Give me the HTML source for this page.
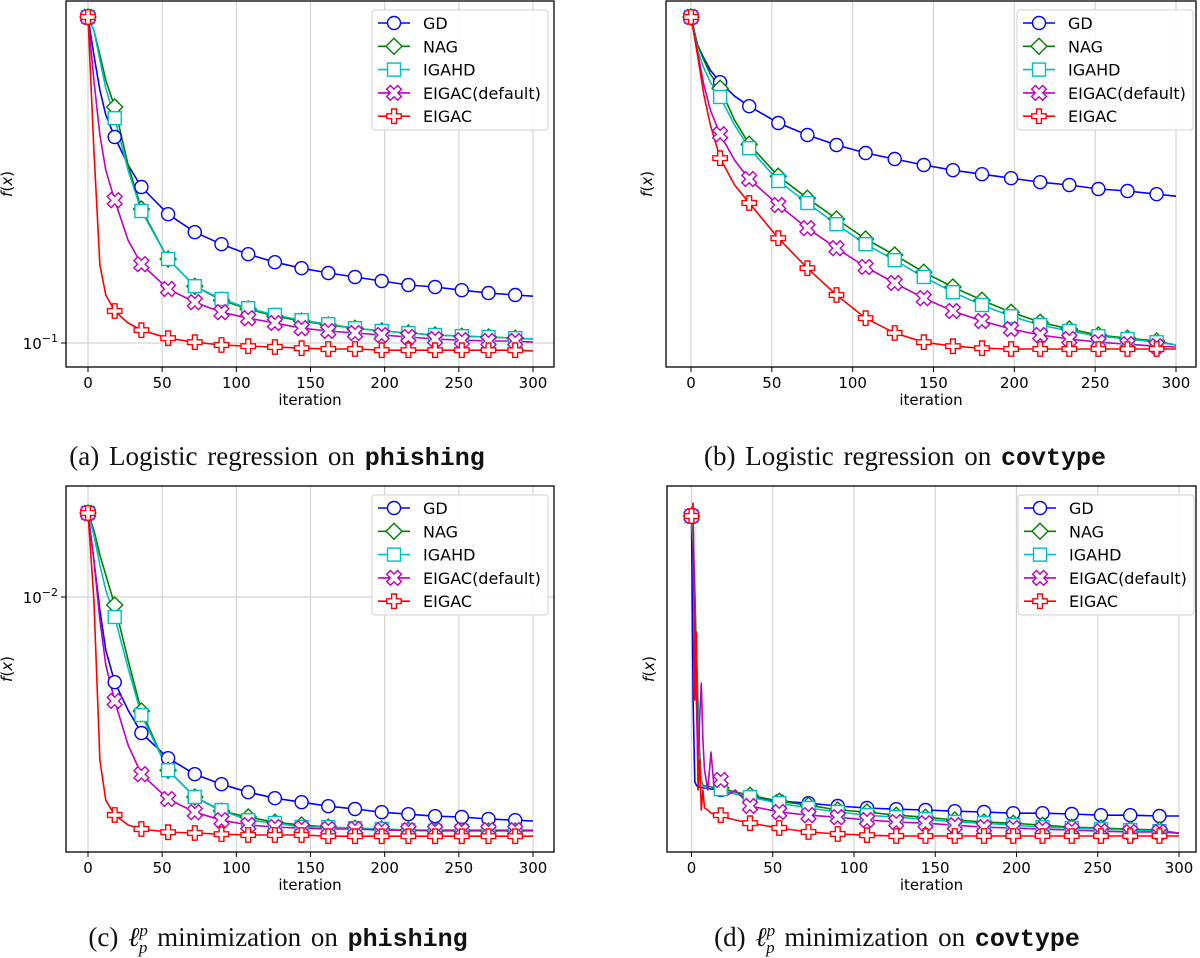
<!DOCTYPE html>
<html><head><meta charset="utf-8">
<style>
html,body{margin:0;padding:0;background:#fff;}
svg{display:block;}
text{font-family:"DejaVu Sans","Liberation Sans",sans-serif;}
.cap{font-family:"Liberation Serif",serif;font-size:27px;fill:#111;word-spacing:3px;}
.mono{font-family:"Liberation Mono",monospace;font-weight:bold;}
</style></head>
<body>
<svg id="fig" width="1200" height="958" viewBox="0 0 1200 958" xmlns="http://www.w3.org/2000/svg">
<text class="cap" x="277" y="465" text-anchor="middle">(a) Logistic regression on <tspan class="mono" font-size="25">phishing</tspan></text>
<text class="cap" x="905" y="465" text-anchor="middle">(b) Logistic regression on <tspan class="mono" font-size="25">covtype</tspan></text>
<text class="cap" x="278" y="946" text-anchor="middle">(c) <tspan font-style="italic">ℓ</tspan><tspan font-size="17" font-style="italic" dy="-10">p</tspan><tspan font-size="17" font-style="italic" dx="-9" dy="17">p</tspan><tspan dy="-7"> minimization on </tspan><tspan class="mono" font-size="25">phishing</tspan></text>
<text class="cap" x="897" y="946" text-anchor="middle">(d) <tspan font-style="italic">ℓ</tspan><tspan font-size="17" font-style="italic" dy="-10">p</tspan><tspan font-size="17" font-style="italic" dx="-9" dy="17">p</tspan><tspan dy="-7"> minimization on </tspan><tspan class="mono" font-size="25">covtype</tspan></text>
</svg>
<script>
// Values are log10 f(x) (y axes are logarithmic)
const seriesNames = ["GD","NAG","IGAHD","EIGAC(default)","EIGAC"];
const xTicks = [0,50,100,150,200,250,300];
const itersStd = [0,4,8,12,18,27,36,54,72,90,108,126,144,162,180,198,216,234,252,270,288,300];
const itersD = [0,1,2,3,4,5,6,7,8,10,12,14,18,22,27,36,54,72,90,108,126,144,162,180,198,216,234,252,270,288,300];

const aGD = [-0.185,-0.280,-0.368,-0.430,-0.485,-0.555,-0.610,-0.678,-0.723,-0.753,-0.778,-0.798,-0.813,-0.825,-0.835,-0.845,-0.855,-0.860,-0.868,-0.875,-0.880,-0.883];
const aNAG = [-0.185,-0.218,-0.280,-0.343,-0.410,-0.555,-0.665,-0.790,-0.858,-0.893,-0.915,-0.933,-0.945,-0.955,-0.963,-0.970,-0.975,-0.980,-0.983,-0.985,-0.988,-0.990];
const aIGAHD = [-0.185,-0.218,-0.293,-0.363,-0.438,-0.568,-0.670,-0.790,-0.858,-0.890,-0.913,-0.930,-0.943,-0.953,-0.963,-0.970,-0.975,-0.980,-0.983,-0.985,-0.988,-0.990];
const aEIGACd = [-0.185,-0.343,-0.480,-0.568,-0.643,-0.743,-0.803,-0.865,-0.898,-0.923,-0.938,-0.950,-0.963,-0.970,-0.975,-0.980,-0.985,-0.990,-0.993,-0.995,-0.995,-0.998];
const aEIGAC = [-0.185,-0.518,-0.805,-0.880,-0.920,-0.950,-0.968,-0.988,-0.998,-1.005,-1.008,-1.010,-1.013,-1.015,-1.015,-1.018,-1.018,-1.018,-1.018,-1.018,-1.018,-1.020];

const bGD = [-0.160,-0.230,-0.263,-0.293,-0.323,-0.358,-0.383,-0.425,-0.455,-0.480,-0.500,-0.515,-0.530,-0.543,-0.553,-0.563,-0.573,-0.580,-0.590,-0.595,-0.603,-0.608];
const bNAG = [-0.160,-0.230,-0.268,-0.303,-0.338,-0.418,-0.478,-0.558,-0.613,-0.665,-0.715,-0.755,-0.798,-0.835,-0.868,-0.898,-0.923,-0.940,-0.955,-0.963,-0.970,-0.980];
const bIGAHD = [-0.160,-0.243,-0.288,-0.323,-0.360,-0.430,-0.488,-0.570,-0.625,-0.678,-0.728,-0.768,-0.810,-0.848,-0.880,-0.908,-0.930,-0.945,-0.958,-0.965,-0.973,-0.980];
const bEIGACd = [-0.160,-0.248,-0.330,-0.393,-0.453,-0.518,-0.565,-0.630,-0.688,-0.738,-0.785,-0.825,-0.863,-0.895,-0.920,-0.940,-0.955,-0.965,-0.973,-0.978,-0.983,-0.985];
const bEIGAC = [-0.160,-0.255,-0.355,-0.430,-0.513,-0.580,-0.625,-0.713,-0.788,-0.855,-0.913,-0.950,-0.973,-0.983,-0.988,-0.990,-0.990,-0.990,-0.990,-0.990,-0.990,-0.990];

const cGD = [-1.790,-1.908,-2.033,-2.133,-2.213,-2.283,-2.340,-2.403,-2.443,-2.468,-2.488,-2.503,-2.513,-2.523,-2.530,-2.538,-2.543,-2.548,-2.550,-2.555,-2.558,-2.560];
const cNAG = [-1.790,-1.833,-1.895,-1.945,-2.020,-2.158,-2.285,-2.433,-2.500,-2.535,-2.550,-2.563,-2.570,-2.575,-2.578,-2.580,-2.583,-2.585,-2.585,-2.585,-2.585,-2.585];
const cIGAHD = [-1.790,-1.845,-1.920,-1.983,-2.050,-2.178,-2.295,-2.433,-2.500,-2.533,-2.558,-2.565,-2.575,-2.575,-2.578,-2.580,-2.583,-2.585,-2.585,-2.585,-2.585,-2.585];
const cEIGACd = [-1.790,-1.908,-2.058,-2.170,-2.260,-2.370,-2.443,-2.505,-2.538,-2.558,-2.570,-2.575,-2.578,-2.580,-2.580,-2.583,-2.583,-2.583,-2.583,-2.583,-2.583,-2.583];
const cEIGAC = [-1.790,-2.008,-2.408,-2.508,-2.545,-2.570,-2.580,-2.588,-2.590,-2.593,-2.595,-2.595,-2.595,-2.598,-2.598,-2.598,-2.598,-2.598,-2.598,-2.598,-2.598,-2.598];

const dGD = [-1,-1.46,-1.665,-1.673,-1.678,-1.678,-1.678,-1.68,-1.68,-1.68,-1.683,-1.683,-1.685,-1.69,-1.695,-1.703,-1.713,-1.718,-1.725,-1.73,-1.733,-1.735,-1.738,-1.74,-1.743,-1.743,-1.745,-1.748,-1.748,-1.75,-1.75];
const dNAG = [-1,-1.06,-1.185,-1.335,-1.46,-1.585,-1.66,-1.673,-1.675,-1.675,-1.678,-1.678,-1.68,-1.685,-1.69,-1.698,-1.713,-1.723,-1.735,-1.74,-1.748,-1.753,-1.76,-1.765,-1.768,-1.773,-1.778,-1.78,-1.783,-1.785,-1.793];
const dIGAHD = [-1,-1.073,-1.21,-1.36,-1.485,-1.61,-1.665,-1.675,-1.678,-1.678,-1.68,-1.68,-1.683,-1.688,-1.695,-1.703,-1.718,-1.73,-1.74,-1.748,-1.753,-1.758,-1.765,-1.768,-1.773,-1.778,-1.78,-1.783,-1.785,-1.788,-1.793];
const dEIGACd = [-1,-1.01,-1.21,-1.46,-1.635,-1.51,-1.418,-1.56,-1.635,-1.685,-1.59,-1.685,-1.66,-1.698,-1.685,-1.725,-1.74,-1.748,-1.753,-1.76,-1.765,-1.768,-1.773,-1.778,-1.78,-1.783,-1.785,-1.788,-1.79,-1.79,-1.793];
const dEIGAC = [-1,-0.968,-1.46,-1.29,-1.685,-1.61,-1.735,-1.685,-1.73,-1.735,-1.743,-1.745,-1.748,-1.755,-1.76,-1.768,-1.78,-1.79,-1.795,-1.798,-1.8,-1.8,-1.8,-1.8,-1.8,-1.8,-1.8,-1.8,-1.8,-1.8,-1.8];

const NS = "http://www.w3.org/2000/svg";
const svg = document.getElementById("fig");
const colors = ["#0000ff","#008000","#00bfbf","#bf00bf","#ff0000"];
const shapes = ["o","D","s","X","P"];

function mk(tag, attrs, parent){
  const e = document.createElementNS(NS, tag);
  for (const k in attrs) e.setAttribute(k, attrs[k]);
  (parent||svg).appendChild(e);
  return e;
}
function plusPts(cx,cy,s,rot){
  const w=0.34, base=[[-w,-1],[w,-1],[w,-w],[1,-w],[1,w],[w,w],[w,1],[-w,1],[-w,w],[-1,w],[-1,-w],[-w,-w]];
  const c=Math.cos(rot), sn=Math.sin(rot);
  return base.map(p=>{const x=p[0]*c-p[1]*sn, y=p[0]*sn+p[1]*c; return (cx+x*s).toFixed(1)+","+(cy+y*s).toFixed(1);}).join(" ");
}
function marker(g, shape, color, cx, cy){
  let m;
  const st = {fill:"#fff", stroke:color, "stroke-width":1.4};
  if (shape==="o") m = mk("circle", Object.assign({cx:cx, cy:cy, r:6.5}, st), g);
  else if (shape==="D") m = mk("polygon", Object.assign({points:`${cx},${cy-8} ${cx+8},${cy} ${cx},${cy+8} ${cx-8},${cy}`}, st), g);
  else if (shape==="s") m = mk("rect", Object.assign({x:cx-6.5, y:cy-6.5, width:13, height:13}, st), g);
  else if (shape==="X") m = mk("polygon", Object.assign({points:plusPts(cx,cy,7.8,Math.PI/4)}, st), g);
  else m = mk("polygon", Object.assign({points:plusPts(cx,cy,7.2,0)}, st), g);
  
  
  return m;
}

function panel(id, cfg, iters, series, ytick){
  const g = mk("g", {});
  
  
  const xs = v => cfg.x0 + (v/300)*(cfg.x300 - cfg.x0);
  const ys = L => cfg.bottom - (L - cfg.lmin)/(cfg.lmax - cfg.lmin)*(cfg.bottom - cfg.top);
  xTicks.forEach(t=>{
    const gl = mk("line",{x1:xs(t),x2:xs(t),y1:cfg.top,y2:cfg.bottom,stroke:"#d4d4d4","stroke-width":1.2},g);
    
    
  });
  if (ytick){
    const gy = mk("line",{x1:cfg.left,x2:cfg.right,y1:ys(ytick.v),y2:ys(ytick.v),stroke:"#d4d4d4","stroke-width":1.2},g);
    
    
    mk("line",{x1:cfg.left-5,x2:cfg.left,y1:ys(ytick.v),y2:ys(ytick.v),stroke:"#000","stroke-width":1},g);
    const tl = mk("text",{x:cfg.left-8,y:ys(ytick.v)+6,"text-anchor":"end","font-size":15,fill:"#000"},g);
    
    
    tl.innerHTML = '10<tspan dy="-7" font-size="11">−' + ytick.exp + '</tspan>';
  }
  series.forEach((vals, si)=>{
    const pts = vals.map((v,i)=>xs(iters[i]).toFixed(1)+","+ys(v).toFixed(1)).join(" ");
    const pl = mk("polyline",{points:pts,fill:"none",stroke:colors[si],"stroke-width":1.6,"stroke-linejoin":"round"},g);
    
    
  });
  series.forEach((vals, si)=>{
    vals.forEach((v,i)=>{ if (iters[i] % 18 === 0 && iters[i] <= 288) marker(g, shapes[si], colors[si], xs(iters[i]), ys(v)); });
  });
  const fr = mk("rect",{x:cfg.left,y:cfg.top,width:cfg.right-cfg.left,height:cfg.bottom-cfg.top,fill:"none",stroke:"#000","stroke-width":1.3},g);
  
  
  xTicks.forEach(t=>{
    mk("line",{x1:xs(t),x2:xs(t),y1:cfg.bottom,y2:cfg.bottom+5,stroke:"#000","stroke-width":1},g);
    const tx = mk("text",{x:xs(t),y:cfg.bottom+21,"text-anchor":"middle","font-size":15,fill:"#000"},g);
    
    
    tx.textContent = t;
  });
  const xl = mk("text",{x:(cfg.left+cfg.right)/2,y:cfg.bottom+38,"text-anchor":"middle","font-size":15,fill:"#000"},g);
  
  
  xl.textContent = "iteration";
  const yl = mk("text",{x:0,y:0,"text-anchor":"middle","font-size":15,fill:"#000",transform:`translate(${cfg.ylabX},${(cfg.top+cfg.bottom)/2}) rotate(-90)`},g);
  
  
  yl.innerHTML = '<tspan font-style="italic">f</tspan>(<tspan font-style="italic">x</tspan>)';
  const lg = mk("g",{},g);
  
  
  mk("rect",{x:cfg.legX,y:cfg.legY,width:176,height:120,rx:3,fill:"#fff","fill-opacity":0.85,stroke:"#d0d0d0","stroke-width":1},lg);
  seriesNames.forEach((n,si)=>{
    const yy = cfg.legY + 13 + si*23.3;
    const e = mk("g",{},lg);
    
    
    mk("line",{x1:cfg.legX+6,x2:cfg.legX+38,y1:yy,y2:yy,stroke:colors[si],"stroke-width":1.6},e);
    marker(e, shapes[si], colors[si], cfg.legX+22, yy);
    const t = mk("text",{x:cfg.legX+51,y:yy+6,"font-size":16,fill:"#000"},e);
    t.textContent = n;
  });
}

panel("a", {x0:88,x300:533,left:66,right:554,top:1,bottom:367,lmin:-1.06,lmax:-0.145,ylabX:12,legX:372,legY:10},
  itersStd, [aGD,aNAG,aIGAHD,aEIGACd,aEIGAC], {v:-1,exp:"1"});
panel("b", {x0:691,x300:1176,left:666,right:1196,top:1,bottom:367,lmin:-1.035,lmax:-0.12,ylabX:652,legX:1017,legY:10},
  itersStd, [bGD,bNAG,bIGAHD,bEIGACd,bEIGAC], null);
panel("c", {x0:88,x300:533,left:66,right:554,top:486,bottom:852,lmin:-2.6375,lmax:-1.7225,ylabX:12,legX:372,legY:495},
  itersStd, [cGD,cNAG,cIGAHD,cEIGACd,cEIGAC], {v:-2,exp:"2"});
panel("d", {x0:691.5,x300:1179,left:667,right:1196,top:486,bottom:852,lmin:-1.84,lmax:-0.925,ylabX:654,legX:1018,legY:495},
  itersD, [dGD,dNAG,dIGAHD,dEIGACd,dEIGAC], null);
</script>
</body></html>
